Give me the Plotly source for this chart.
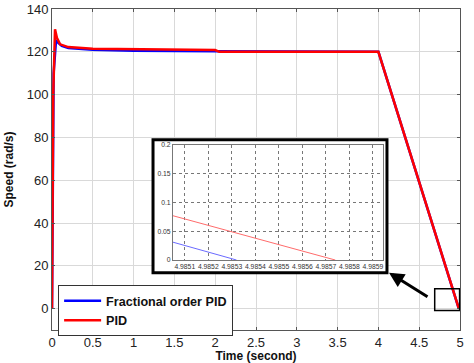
import plotly.graph_objects as go

# ---- data ----
t_fopid = [0, 0.02, 0.05, 0.08, 0.12, 0.2, 0.5, 1.0, 2.0, 4.0, 4.9853]
w_fopid = [0, 110, 125.5, 124.0, 122.8, 121.8, 121.0, 120.5, 120.2, 120.0, 0]
t_pid = [0, 0.015, 0.037, 0.06, 0.1, 0.2, 0.5, 1.0, 2.0, 2.05, 4.0, 4.98574]
w_pid = [0, 100, 130.5, 126.5, 123.5, 122.2, 121.4, 121.1, 120.8, 120.0, 120.0, 0]

zoom_t_fopid = [4.98505, 4.98532]
zoom_w_fopid = [0.031, 0.0]
zoom_t_pid = [4.98505, 4.98574]
zoom_w_pid = [0.077, 0.0]

x_ticks = [0, 0.5, 1, 1.5, 2, 2.5, 3, 3.5, 4, 4.5, 5]
y_ticks = [0, 20, 40, 60, 80, 100, 120, 140]
zoom_x_ticks = [4.9851, 4.9852, 4.9853, 4.9854, 4.9855, 4.9856, 4.9857, 4.9858, 4.9859]
zoom_y_ticks = [0, 0.05, 0.1, 0.15, 0.2]
zoom_y_labels = ["0", "0.05", "0.1", "0.15", "0.2"]

BLUE = "#0000ff"
RED = "#ff0000"
FONT = "Liberation Sans, Arial, sans-serif"

fig = go.Figure()
fig.add_trace(go.Scatter(x=t_fopid, y=w_fopid, mode="lines", name="Fractional order PID",
                         line=dict(color=BLUE, width=2.5)))
fig.add_trace(go.Scatter(x=t_pid, y=w_pid, mode="lines", name="PID",
                         line=dict(color=RED, width=2.5)))
fig.add_trace(go.Scatter(x=zoom_t_fopid, y=zoom_w_fopid, mode="lines", showlegend=False,
                         line=dict(color="#6a6aff", width=1), xaxis="x2", yaxis="y2"))
fig.add_trace(go.Scatter(x=zoom_t_pid, y=zoom_w_pid, mode="lines", showlegend=False,
                         line=dict(color="#ff6b6b", width=1), xaxis="x2", yaxis="y2"))

axis_common = dict(showline=True, linecolor="#555", linewidth=1, mirror="ticks",
                   ticks="inside", ticklen=3, tickcolor="#555",
                   showgrid=True, gridcolor="#d9d9d9", gridwidth=1, zeroline=False,
                   tickfont=dict(family=FONT, size=13, color="#222"), automargin=False)

inset_common = dict(showline=True, linecolor="#777", linewidth=1, mirror=True,
                    ticks="", showgrid=True, gridcolor="#777", griddash="dot", gridwidth=1,
                    zeroline=False, tickfont=dict(family=FONT, size=6.8, color="#333"),
                    ticklabelstandoff=0, automargin=False, tickangle=0)

fig.update_layout(
    width=474, height=363,
    margin=dict(l=52, r=14, t=9, b=33),
    paper_bgcolor="white", plot_bgcolor="white",
    showlegend=True,
    legend=dict(x=0.015, y=0.14, xanchor="left", yanchor="top",
                bgcolor="white", bordercolor="#333", borderwidth=1,
                font=dict(family=FONT, size=12.6, color="#111", weight="bold"),
                tracegroupgap=0, itemwidth=37),
    xaxis=dict(range=[0, 5], tickvals=x_ticks, domain=[0, 1],
               title=dict(text="<b>Time (second)</b>", font=dict(family=FONT, size=12, color="#111"), standoff=0),
               **axis_common),
    yaxis=dict(range=[-10, 140], tickvals=y_ticks, domain=[0, 1],
               title=dict(text="<b>Speed (rad/s)</b>", font=dict(family=FONT, size=12, color="#111"), standoff=10),
               **axis_common),
    xaxis2=dict(domain=[0.2966, 0.8113], anchor="y2", range=[4.98505, 4.985943],
                tickvals=zoom_x_ticks, tickformat=".4f", **inset_common),
    yaxis2=dict(domain=[0.218, 0.5763], anchor="x2", range=[0, 0.2],
                tickvals=zoom_y_ticks, ticktext=zoom_y_labels, **inset_common),
    shapes=[
        # white inset frame with thick border
        dict(type="rect", xref="x", yref="y", x0=1.238, x1=4.105, y0=16.8, y1=78.9,
             fillcolor="white", line=dict(color="black", width=3), layer="between"),
        # small zoom rectangle
        dict(type="rect", xref="x", yref="y", x0=4.69, x1=4.995, y0=-0.9, y1=9.3,
             line=dict(color="black", width=1.5), layer="above"),
    ],
    annotations=[
        dict(x=4.13, y=16.8, ax=4.62, ay=5.1, xref="x", yref="y", axref="x", ayref="y",
             showarrow=True, arrowhead=2, arrowsize=1, arrowwidth=3, arrowcolor="black", text=""),
    ],
)

fig.write_html("out.html", config={"displayModeBar": False},
               post_script="document.body.style.margin='0';")
